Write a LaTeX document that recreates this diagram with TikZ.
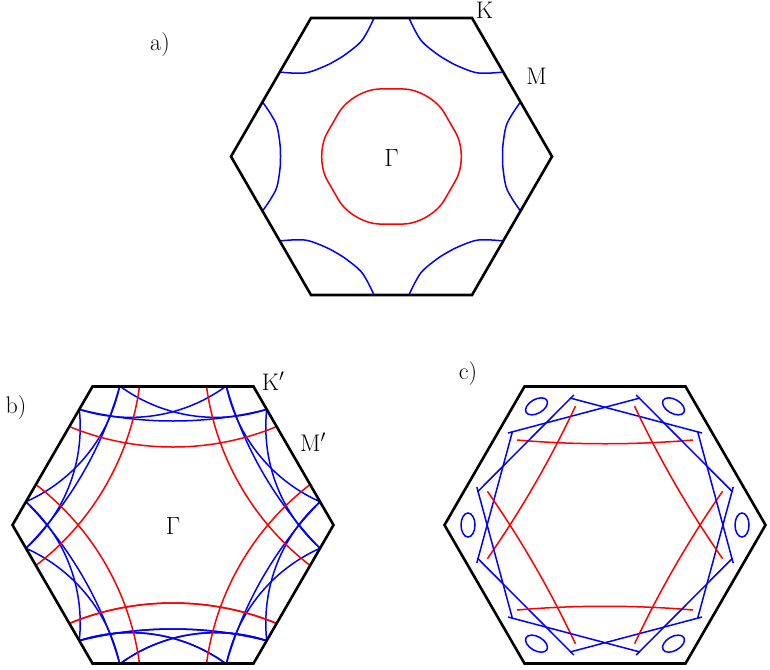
\documentclass[tikz,border=0pt]{standalone}
\usepackage{fontspec}
\begin{document}
\begin{tikzpicture}[x=1pt,y=-1pt,
  hexa/.style={line width=2.6pt,line join=miter},
  rc/.style={red,line width=1.5pt},
  bc/.style={blue,line width=1.5pt},
  lab/.style={font=\fontsize{24}{28}\selectfont,inner sep=0pt}]
\useasboundingbox (0,0) rectangle (770,669);
\def\hexpath{(-80.5,-138.5) -- (80.5,-138.5) -- (160.5,0) -- (80.5,138.5) -- (-80.5,138.5) -- (-160.5,0) -- cycle}
% ---------- a)
\begin{scope}[shift={(391.5,156.5)}]
  \draw[rc,rounded corners=28pt] (0:78) -- (60:78) -- (120:78) -- (180:78) -- (240:78) -- (300:78) -- cycle;
  \foreach \k in {0,60,...,300}{
    \draw[bc,rotate=\k] plot[smooth,tension=0.6] coordinates {(-129,-54.6) (-120.5,-42) (-114.5,-30) (-111.5,-12) (-111,0) (-111.5,12) (-114.5,30) (-120.5,42) (-129,54.6)};
  }
  \draw[hexa] \hexpath;
  \node[lab] (ga) at (0,1) {$\Gamma$};
  \node[lab] (ka) at (93,-146) {K};
  \node[lab] (ma) at (145,-80) {M};
\end{scope}
\node[lab] (la) at (160,45) {a)};
% ---------- b)
\begin{scope}[shift={(173,525)}]
  \begin{scope}
    \clip \hexpath;
    \foreach \a in {90,150,...,450}{
      \draw[bc] (\a:486) circle[radius=382];
      \draw[bc] (\a+9:274) circle[radius=163];
      \draw[bc] (\a-9:274) circle[radius=163];
    }
    \foreach \a in {90,150,...,450}{
      \draw[rc] (\a:350) circle[radius=272];
    }
  \end{scope}
  \draw[hexa] \hexpath;
  \node[lab] (gb) at (0,1) {$\Gamma$};
  \node[lab] (kb) at (100,-144) {K$'$};
  \node[lab] (mb) at (140,-83) {M$'$};
\end{scope}
\node[lab] (lb) at (16,408) {b)};
% ---------- c)
\begin{scope}[shift={(605,525)}]
  \foreach \k in {0,60,...,300}{
    \begin{scope}[rotate=\k]
      \draw[bc] (-97,-92) -- (35,-127);
      \draw[bc] (97,-92) -- (-35,-127);
      \draw[rc] (-88,-85) .. controls (-30,-80) and (30,-80) .. (88,-85);
      \draw[bc] (137,0) ellipse[x radius=7,y radius=12];
    \end{scope}
  }
  \draw[hexa] \hexpath;
\end{scope}
\node[lab] (lc) at (468,374) {c)};
\end{tikzpicture}
\end{document}
